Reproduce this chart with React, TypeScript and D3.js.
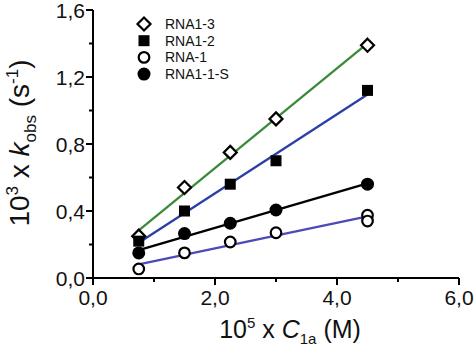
import React from "react";
import * as d3 from "d3";

const xValues = [0.75, 1.5, 2.25, 3.0, 4.5];
const rna13 = [0.25, 0.54, 0.75, 0.95, 1.39];
const rna12 = [0.22, 0.40, 0.56, 0.70, 1.12];
const rna1X = [0.75, 1.5, 2.25, 3.0, 4.5, 4.5];
const rna1 = [0.054, 0.15, 0.215, 0.27, 0.375, 0.34];
const rna11s = [0.15, 0.265, 0.327, 0.406, 0.56];
const xTicks = [0, 2, 4, 6];
const yTicks = [0, 0.4, 0.8, 1.2, 1.6];
const legendLabels = ["RNA1-3", "RNA1-2", "RNA-1", "RNA1-1-S"];

type Series = { xs: number[]; ys: number[]; color: string; marker: string };

const series: Series[] = [
  { xs: xValues, ys: rna13, color: "#3a8a3a", marker: "diamond" },
  { xs: xValues, ys: rna12, color: "#2b3fa6", marker: "square" },
  { xs: rna1X, ys: rna1, color: "#4a4ab8", marker: "openCircle" },
  { xs: xValues, ys: rna11s, color: "#000000", marker: "filledCircle" },
];

function fit(xs: number[], ys: number[]) {
  const mx = d3.mean(xs)!;
  const my = d3.mean(ys)!;
  let num = 0, den = 0;
  xs.forEach((x, i) => { num += (x - mx) * (ys[i] - my); den += (x - mx) ** 2; });
  const b = num / den;
  return { a: my - b * mx, b };
}

const fmt = (v: number) => v.toFixed(1).replace(".", ",");

function Marker({ type, cx, cy }: { type: string; cx: number; cy: number }) {
  if (type === "diamond") {
    const s = 6.5;
    return <path d={`M${cx},${cy - s}L${cx + s},${cy}L${cx},${cy + s}L${cx - s},${cy}Z`} fill="#fff" stroke="#000" strokeWidth={2.2} />;
  }
  if (type === "square") return <rect x={cx - 5.5} y={cy - 5.5} width={11} height={11} fill="#000" />;
  if (type === "openCircle") return <circle cx={cx} cy={cy} r={5.3} fill="#fff" stroke="#000" strokeWidth={2.2} />;
  return <circle cx={cx} cy={cy} r={6.5} fill="#000" />;
}

export default function App() {
  const W = 474, H = 348;
  const x = d3.scaleLinear().domain([0, 6]).range([93, 459]);
  const y = d3.scaleLinear().domain([0, 1.6]).range([278, 10]);
  const font = "Liberation Sans, Arial, sans-serif";
  const xMinor = d3.range(1, 6, 2);
  const yMinor = d3.range(0.2, 1.6, 0.4);

  return (
    <svg width={W} height={H} style={{ position: "absolute", left: 0, top: 0, background: "#fff" }} fontFamily={font}>
      <rect width={W} height={H} fill="#fff" />
      {series.map((s, i) => {
        const { a, b } = fit(s.xs, s.ys);
        const x0 = d3.min(s.xs)!, x1 = d3.max(s.xs)!;
        return <line key={i} x1={x(x0)} y1={y(a + b * x0)} x2={x(x1)} y2={y(a + b * x1)} stroke={s.color} strokeWidth={2.3} />;
      })}
      {series.map((s, i) => s.xs.map((xv, j) => <Marker key={`${i}-${j}`} type={s.marker} cx={x(xv)} cy={y(s.ys[j])} />))}
      <line x1={x(0)} y1={y(0)} x2={x(6)} y2={y(0)} stroke="#000" strokeWidth={2} />
      <line x1={x(0)} y1={y(0) + 1} x2={x(0)} y2={y(1.6)} stroke="#000" strokeWidth={2} />
      {xTicks.map((t) => (
        <g key={t}>
          <line x1={x(t)} x2={x(t)} y1={y(0)} y2={y(0) + 7} stroke="#000" strokeWidth={2} />
          <text x={x(t)} y={305} textAnchor="middle" fontSize={21} fill="#111">{fmt(t)}</text>
        </g>
      ))}
      {xMinor.map((t) => <line key={t} x1={x(t)} x2={x(t)} y1={y(0)} y2={y(0) + 4} stroke="#000" strokeWidth={2} />)}
      {yTicks.map((t) => (
        <g key={t}>
          <line x1={x(0) - 7} x2={x(0)} y1={y(t)} y2={y(t)} stroke="#000" strokeWidth={2} />
          <text x={85} y={y(t) + 7.5} textAnchor="end" fontSize={21} fill="#111">{fmt(t)}</text>
        </g>
      ))}
      {yMinor.map((t) => <line key={t} x1={x(0) - 4} x2={x(0)} y1={y(t)} y2={y(t)} stroke="#000" strokeWidth={2} />)}
      <text x={290} y={338} textAnchor="middle" fontSize={25} fill="#111">
        10<tspan dy={-10} fontSize={15}>5</tspan><tspan dy={10}> x </tspan><tspan fontStyle="italic">C</tspan><tspan dy={6} fontSize={15}>1a</tspan><tspan dy={-6}> (M)</tspan>
      </text>
      <text transform="translate(29,143) rotate(-90)" textAnchor="middle" fontSize={28} fill="#111">
        10<tspan dy={-11} fontSize={17}>3</tspan><tspan dy={11}> x </tspan><tspan fontStyle="italic">k</tspan><tspan dy={7} fontSize={17}>obs</tspan><tspan dy={-7}> (s</tspan><tspan dy={-11} fontSize={17}>-1</tspan><tspan dy={11}>)</tspan>
      </text>
      {legendLabels.map((l, i) => {
        const ly = 24 + i * 16.7;
        return (
          <g key={l}>
            <Marker type={series[i].marker} cx={144} cy={ly} />
            <text x={165} y={ly + 5} fontSize={14} fill="#111">{l}</text>
          </g>
        );
      })}
    </svg>
  );
}
